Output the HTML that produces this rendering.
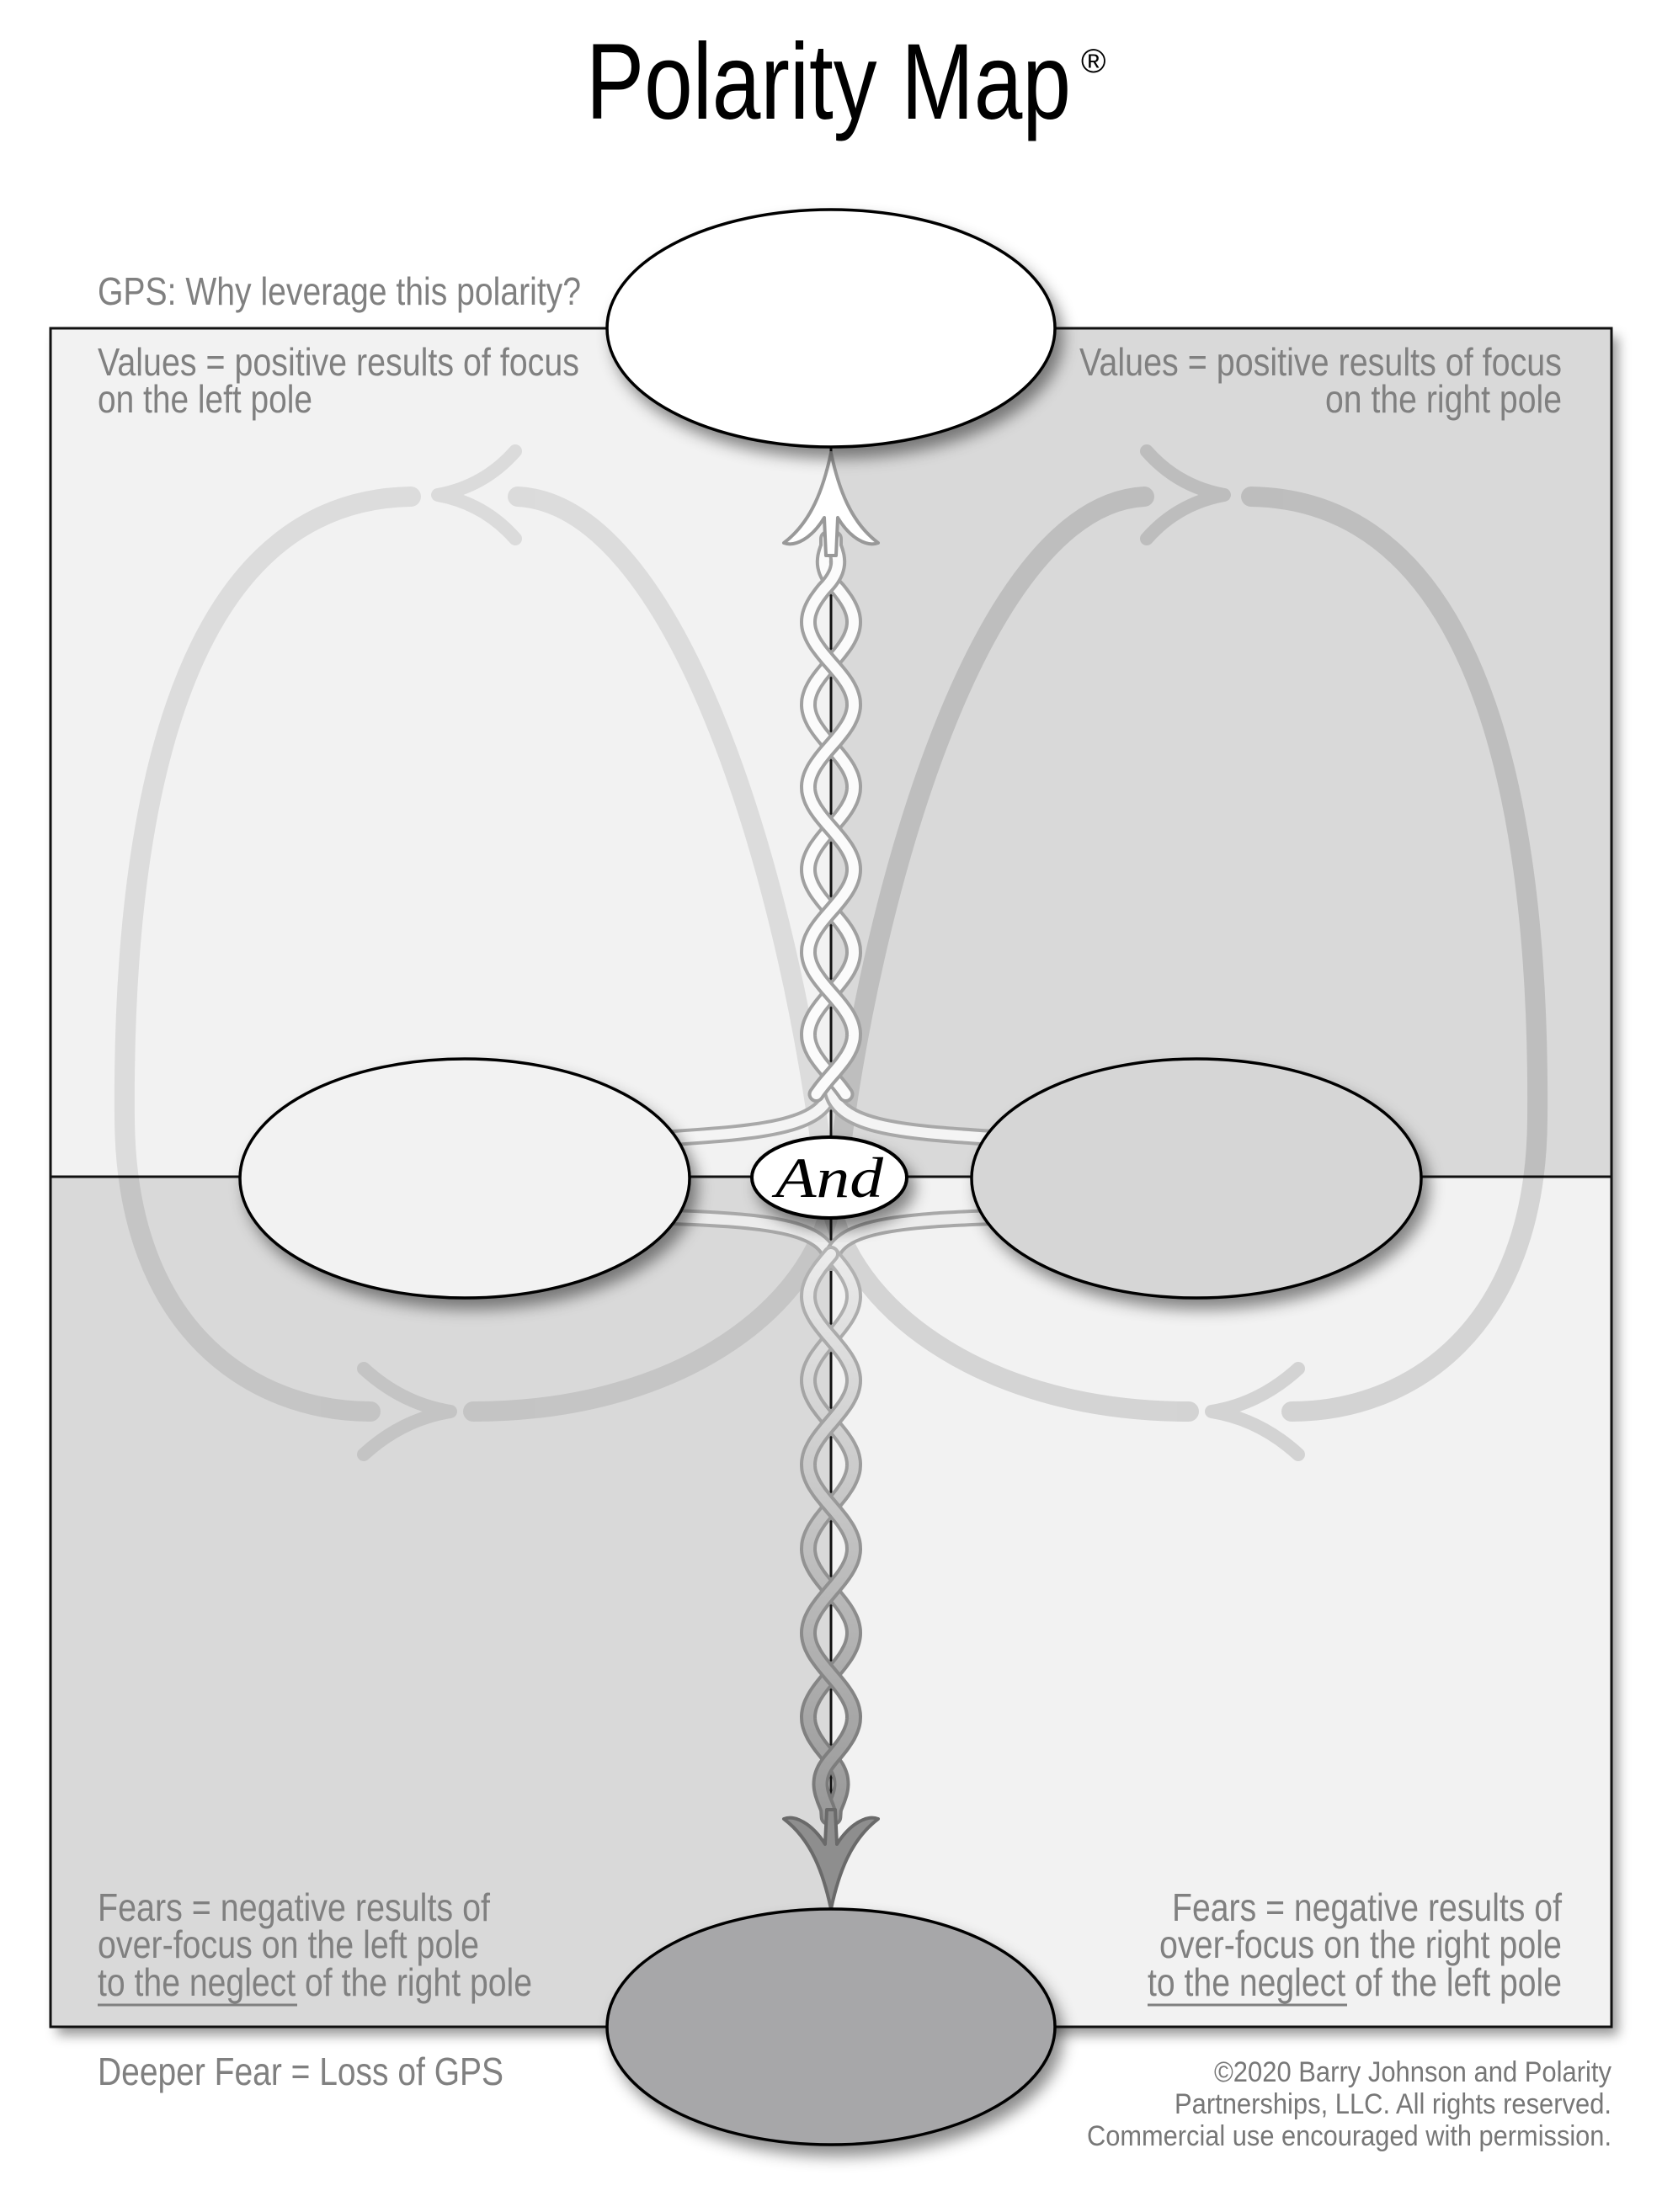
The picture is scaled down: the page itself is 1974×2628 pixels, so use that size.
<!DOCTYPE html>
<html><head><meta charset="utf-8"><style>
html,body{margin:0;padding:0;background:#fff}
svg{display:block}
text{font-family:"Liberation Sans Narrow","Liberation Sans",sans-serif;fill:#808080}
</style></head><body>
<svg id="s" width="1974" height="2628" viewBox="0 0 1974 2628" xmlns="http://www.w3.org/2000/svg">
<defs>
<filter id="sh" x="-20%" y="-20%" width="150%" height="150%"><feDropShadow dx="8" dy="12" stdDeviation="9" flood-color="#000" flood-opacity="0.45"/></filter>
<filter id="sh2" x="-5%" y="-5%" width="112%" height="112%"><feDropShadow dx="8" dy="10" stdDeviation="7" flood-color="#000" flood-opacity="0.4"/></filter>
<linearGradient id="gf" gradientUnits="userSpaceOnUse" x1="0" y1="1480" x2="0" y2="2260"><stop offset="0" stop-color="#ececec"/><stop offset="1" stop-color="#8c8c8c"/></linearGradient>
<linearGradient id="go" gradientUnits="userSpaceOnUse" x1="0" y1="1480" x2="0" y2="2260"><stop offset="0" stop-color="#b4b4b4"/><stop offset="1" stop-color="#6e6e6e"/></linearGradient>
</defs>
<text x="696" y="141" font-size="128" textLength="576" lengthAdjust="spacingAndGlyphs" style="fill:#000">Polarity Map</text>
<text x="1284" y="86" font-size="40" style="fill:#000">®</text>

<g filter="url(#sh2)"><rect x="60" y="390" width="1854" height="2018" fill="#f2f2f2"/></g>
<rect x="987" y="390" width="927" height="1008" fill="#d9d9d9"/>
<rect x="60" y="1398" width="927" height="1010" fill="#d9d9d9"/>
<rect x="60" y="390" width="1854" height="2018" fill="none" stroke="#111" stroke-width="3"/>
<line x1="60" y1="1398" x2="1914" y2="1398" stroke="#111" stroke-width="3"/>

<g fill="none" stroke="#000" stroke-linecap="round" stroke-linejoin="round">
<g opacity="0.09" stroke-width="24">
<path d="M975,1360 C930,1020 800,600 615,590"/>
<path stroke-width="16" d="M612,536 Q575,578 520,588 Q575,598 612,640"/>
<path d="M488,590 C200,595 145,1000 148,1330 C150,1580 300,1677 440,1677"/>
<path stroke-width="16" d="M432,1626 Q478,1668 535,1677 Q478,1686 432,1728"/>
<path d="M562,1677 C800,1677 955,1560 985,1440"/>
</g>
<g opacity="0.12" stroke-width="24">
<path d="M999,1360 C1044,1020 1174,600 1359,590"/>
<path stroke-width="16" d="M1362,536 Q1399,578 1454,588 Q1399,598 1362,640"/>
<path d="M1486,590 C1774,595 1829,1000 1826,1330 C1824,1580 1674,1677 1534,1677"/>
<path stroke-width="16" d="M1542,1626 Q1496,1668 1439,1677 Q1496,1686 1542,1728"/>
<path d="M1412,1677 C1174,1677 1019,1560 989,1440"/>
</g>
</g>

<line x1="987" y1="530" x2="987" y2="2268" stroke="#111" stroke-width="3"/>
<g id="rope"></g>

<ellipse cx="987" cy="390" rx="266" ry="141" fill="#fff" stroke="#000" stroke-width="3.5" filter="url(#sh)"/>
<ellipse cx="552" cy="1400" rx="267" ry="142" fill="#f2f2f2" stroke="#000" stroke-width="3.5" filter="url(#sh)"/>
<ellipse cx="1421" cy="1400" rx="267" ry="142" fill="#d6d6d6" stroke="#000" stroke-width="3.5" filter="url(#sh)"/>
<ellipse cx="987" cy="2408" rx="266" ry="140" fill="#a7a7a9" stroke="#000" stroke-width="3.5" filter="url(#sh)"/>
<ellipse cx="985" cy="1399" rx="92" ry="48" fill="#fff" stroke="#000" stroke-width="4" filter="url(#sh)"/>
<text x="985" y="1422" font-size="68" text-anchor="middle" style="fill:#000;font-family:'Liberation Serif',serif;font-style:italic" textLength="128" lengthAdjust="spacingAndGlyphs">And</text>

<text x="116" y="362" font-size="46" textLength="574" lengthAdjust="spacingAndGlyphs">GPS: Why leverage this polarity?</text>
<text x="116" y="446" font-size="46" textLength="572" lengthAdjust="spacingAndGlyphs">Values = positive results of focus</text>
<text x="116" y="490" font-size="46" textLength="255" lengthAdjust="spacingAndGlyphs">on the left pole</text>
<text x="1282" y="446" font-size="46" textLength="573" lengthAdjust="spacingAndGlyphs">Values = positive results of focus</text>
<text x="1574" y="490" font-size="46" textLength="281" lengthAdjust="spacingAndGlyphs">on the right pole</text>

<text x="116" y="2282" font-size="46" textLength="466" lengthAdjust="spacingAndGlyphs">Fears = negative results of</text>
<text x="116" y="2326" font-size="46" textLength="453" lengthAdjust="spacingAndGlyphs">over-focus on the left pole</text>
<text x="116" y="2371" font-size="46" textLength="516" lengthAdjust="spacingAndGlyphs">to the neglect of the right pole</text>
<line x1="116" y1="2382" x2="353" y2="2382" stroke="#808080" stroke-width="3"/>
<text x="1392" y="2282" font-size="46" textLength="463" lengthAdjust="spacingAndGlyphs">Fears = negative results of</text>
<text x="1377" y="2326" font-size="46" textLength="478" lengthAdjust="spacingAndGlyphs">over-focus on the right pole</text>
<text x="1363" y="2371" font-size="46" textLength="492" lengthAdjust="spacingAndGlyphs">to the neglect of the left pole</text>
<line x1="1363" y1="2382" x2="1600" y2="2382" stroke="#808080" stroke-width="3"/>
<text x="116" y="2477" font-size="46" textLength="482" lengthAdjust="spacingAndGlyphs">Deeper Fear = Loss of GPS</text>
<text x="1442" y="2473" font-size="34" textLength="472" lengthAdjust="spacingAndGlyphs" style="fill:#777">©2020 Barry Johnson and Polarity</text>
<text x="1395" y="2511" font-size="34" textLength="519" lengthAdjust="spacingAndGlyphs" style="fill:#777">Partnerships, LLC. All rights reserved.</text>
<text x="1291" y="2549" font-size="34" textLength="623" lengthAdjust="spacingAndGlyphs" style="fill:#777">Commercial use encouraged with permission.</text>
</svg>
<script>
(function(){
var g=document.getElementById('rope'),NS='http://www.w3.org/2000/svg';
function p(d,st,w){var e=document.createElementNS(NS,'path');e.setAttribute('d',d);e.setAttribute('fill','none');e.setAttribute('stroke',st);e.setAttribute('stroke-width',w);e.setAttribute('stroke-linecap','round');e.setAttribute('stroke-linejoin','round');g.appendChild(e);}
function strand(y0,y1,ph,sign,per,amp,tStart,tEnd){var d='';for(var y=y0;y<=y1;y+=3){var k=1;if(tStart)k=Math.min(k,(y-y0)/tStart);if(tEnd)k=Math.min(k,(y1-y)/tEnd);k=Math.max(0.15,Math.min(1,k));var x=987+sign*amp*k*Math.sin(Math.PI*(y-ph)/per);d+=(d?'L':'M')+x.toFixed(1)+','+y;}return d;}
function draw(d,o,f){p(d,o,20);p(d,f,12);}
var lt='M987,1290 C985,1340 900,1345 800,1352',rt='M987,1290 C989,1340 1074,1345 1180,1352';
draw(lt,'#a8a8a8','#f4f4f4');draw(rt,'#a8a8a8','#f4f4f4');
var A=strand(640,1300,690,1,98,27,60,0),B=strand(640,1300,690,-1,98,27,60,0);
draw(A,'#a0a0a0','#fbfbfb');draw(B,'#a0a0a0','#fbfbfb');
var ah='M987,538 C996,580 1010,620 1043,645 C1030,650 1010,640 995,615 L993,660 L981,660 L979,615 C964,640 944,650 931,645 C964,620 978,580 987,538 Z';
var e=document.createElementNS(NS,'path');e.setAttribute('d',ah);e.setAttribute('fill','#fff');e.setAttribute('stroke','#999');e.setAttribute('stroke-width','4');e.setAttribute('stroke-linejoin','round');g.appendChild(e);
var lb='M987,1500 C985,1455 900,1450 800,1446',rb='M987,1500 C989,1455 1074,1450 1180,1446';
draw(lb,'#a8a8a8','#ececec');draw(rb,'#a8a8a8','#ececec');
var C=strand(1490,2160,1490,1,100,27,0,70),D=strand(1490,2160,1490,-1,100,27,0,70);
draw(C,'url(#go)','url(#gf)');draw(D,'url(#go)','url(#gf)');
var ad='M987,2268 C978,2226 964,2186 931,2161 C944,2156 964,2166 980,2191 L982,2150 L992,2150 L994,2191 C1010,2166 1030,2156 1043,2161 C1010,2186 996,2226 987,2268 Z';
var f=document.createElementNS(NS,'path');f.setAttribute('d',ad);f.setAttribute('fill','#8e8e8e');f.setAttribute('stroke','#6a6a6a');f.setAttribute('stroke-width','4');f.setAttribute('stroke-linejoin','round');g.appendChild(f);
})();
</script>
</body></html>
